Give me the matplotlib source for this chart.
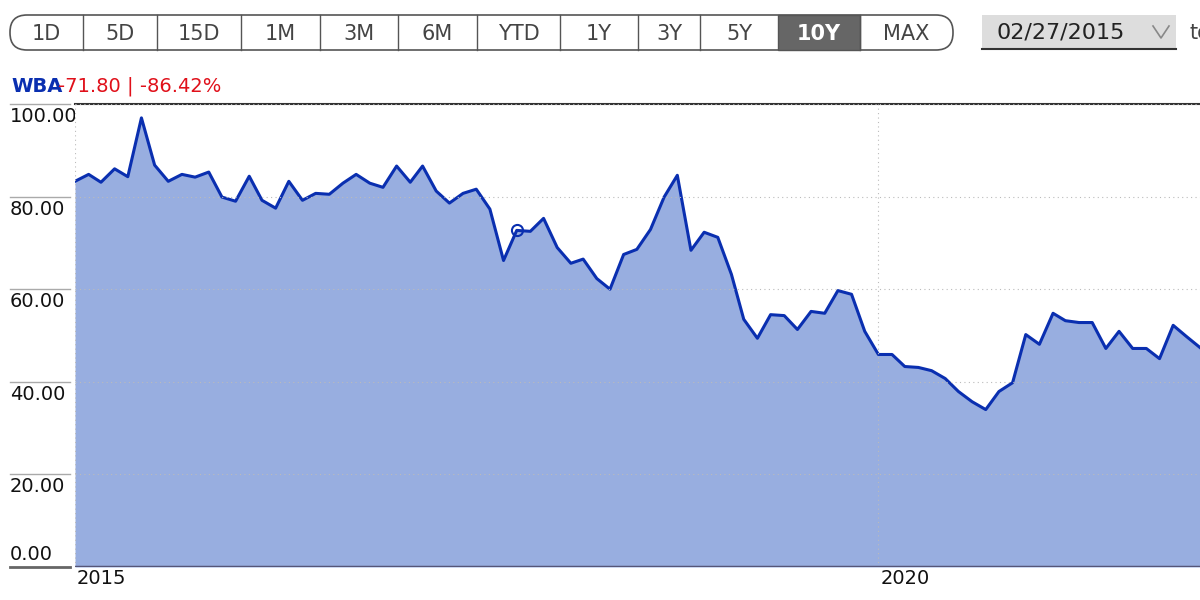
import matplotlib
matplotlib.use("Agg")
import matplotlib.pyplot as plt
import numpy as np
import pandas as pd
from matplotlib.patches import Rectangle, FancyBboxPatch

plt.rcParams['font.family'] = ['Liberation Sans Narrow', 'DejaVu Sans']

prices = [83.3, 84.8, 83.1, 86.0, 84.3, 97.0, 86.8, 83.3, 84.8, 84.2, 85.3, 79.9,
          79.0, 84.4, 79.2, 77.5, 83.3, 79.2, 80.7, 80.5, 82.9, 84.8, 82.9, 82.0,
          86.6, 83.1, 86.6, 81.2, 78.6, 80.7, 81.6, 77.3, 66.2, 72.7, 72.5, 75.3,
          69.0, 65.6, 66.5, 62.3, 60.0, 67.5, 68.6, 72.9, 79.9, 84.6, 68.4, 72.3,
          71.2, 63.2, 53.5, 49.4, 54.5, 54.3, 51.3, 55.2, 54.8, 59.7, 58.9, 50.9,
          45.9, 45.9, 43.3, 43.1, 42.4, 40.7, 37.9, 35.7, 34.0, 37.9, 39.8, 50.2,
          48.1, 54.8, 53.2, 52.8, 52.8, 47.2, 50.9, 47.2, 47.2, 45.0, 52.2, 49.8, 47.4]
dates = pd.date_range("2015-01-01", periods=len(prices), freq="MS")
marker_index = 33
ytick_vals = [0, 20, 40, 60, 80, 100]
ytick_labels = ["0.00", "20.00", "40.00", "60.00", "80.00", "100.00"]
buttons = ["1D", "5D", "15D", "1M", "3M", "6M", "YTD", "1Y", "3Y", "5Y", "10Y", "MAX"]
button_edges = [10, 83, 157, 241, 320, 398, 477, 560, 638, 700, 778, 860, 953]
active = "10Y"

W, H = 1200, 600
fig = plt.figure(figsize=(12, 6), dpi=100)

ov = fig.add_axes([0, 0, 1, 1])
ov.set_xlim(0, W); ov.set_ylim(H, 0); ov.axis('off')

L, R, T, B = 75, 1200, 104, 567
ax = fig.add_axes([L / W, 1 - B / H, (R - L) / W, (B - T) / H])
x = dates
ax.fill_between(x, prices, 0, color='#98aee0', lw=0)
ax.plot(x, prices, color='#0a2fb0', lw=2.2)
ax.plot(x[marker_index], prices[marker_index], 'o', mfc='none', mec='#0a2fb0', ms=8, mew=1.5)
ax.set_ylim(0, 100)
ax.set_xlim(x[0], x[-1])
for v in ytick_vals[1:]:
    ax.axhline(v, color='#bbbbbb', lw=0.8, ls=(0, (1, 3)), zorder=3)
ax.axvline(pd.Timestamp("2020-01-01"), color='#bbbbbb', lw=0.8, ls=(0, (1, 3)), zorder=3)
ax.axvline(x[0], color='#bbbbbb', lw=0.8, ls=(0, (1, 3)), zorder=3)
ax.set_xticks([]); ax.set_yticks([])
for s in ['left', 'right', 'bottom']:
    ax.spines[s].set_visible(False)
ax.spines['top'].set_color('#333333'); ax.spines['top'].set_linewidth(1.5)
ax.axhline(0, color='#555577', lw=2.5, zorder=4)

for v, lab in zip(ytick_vals, ytick_labels):
    py = B - (B - T) * v / 100
    ov.plot([10, 70], [py, py], color='#aaaaaa' if v else '#666666', lw=1 if v else 2)
    if v == 0:
        ov.text(10, py - 3, lab, fontsize=14, va='bottom', ha='left', color='#111111')
    else:
        ov.text(10, py + 3, lab, fontsize=14, va='top', ha='left', color='#111111')

span = (x[-1] - x[0]).total_seconds()
for yr in [2015, 2020]:
    frac = (pd.Timestamp(f"{yr}-01-01") - x[0]).total_seconds() / span
    xp = L + (R - L) * frac
    ov.text(xp + 2, B + 2, str(yr), fontsize=14, va='top', ha='left', color='#111111')

ov.text(11, 86, "WBA", fontsize=14, fontweight='bold', color='#0a2fb0', va='center')
ov.text(58, 86, "-71.80 | -86.42%", fontsize=14, color='#e0101a', va='center')

by0, by1 = 15, 50
ov.add_patch(FancyBboxPatch((10, by0), 943, by1 - by0, boxstyle="round,pad=0,rounding_size=17",
                            fc='white', ec='#555555', lw=1.2, zorder=1))
for i, lab in enumerate(buttons):
    x0, x1 = button_edges[i], button_edges[i + 1]
    if lab == active:
        ov.add_patch(Rectangle((x0, by0), x1 - x0, by1 - by0, fc='#666666', ec='#555555', lw=1, zorder=2))
    elif 0 < i:
        ov.plot([x0, x0], [by0, by1], color='#555555', lw=1, zorder=2)
    ov.text((x0 + x1) / 2, (by0 + by1) / 2 + 1, lab, fontsize=15,
            color='white' if lab == active else '#444444',
            fontweight='bold' if lab == active else 'normal',
            ha='center', va='center', zorder=3)

ov.add_patch(Rectangle((982, 15), 194, 34, fc='#dddddd', ec='none'))
ov.plot([982, 1176], [49, 49], color='#333333', lw=1.5)
ov.text(996, 32, "02/27/2015", fontsize=16, color='#222222', va='center', ha='left')
ov.plot([1153, 1161, 1169], [26, 38, 26], color='#888888', lw=1.2)
ov.text(1190, 33, "to", fontsize=15, color='#444444', va='center', ha='left', clip_on=False)

fig.savefig("out.png", dpi=100)
